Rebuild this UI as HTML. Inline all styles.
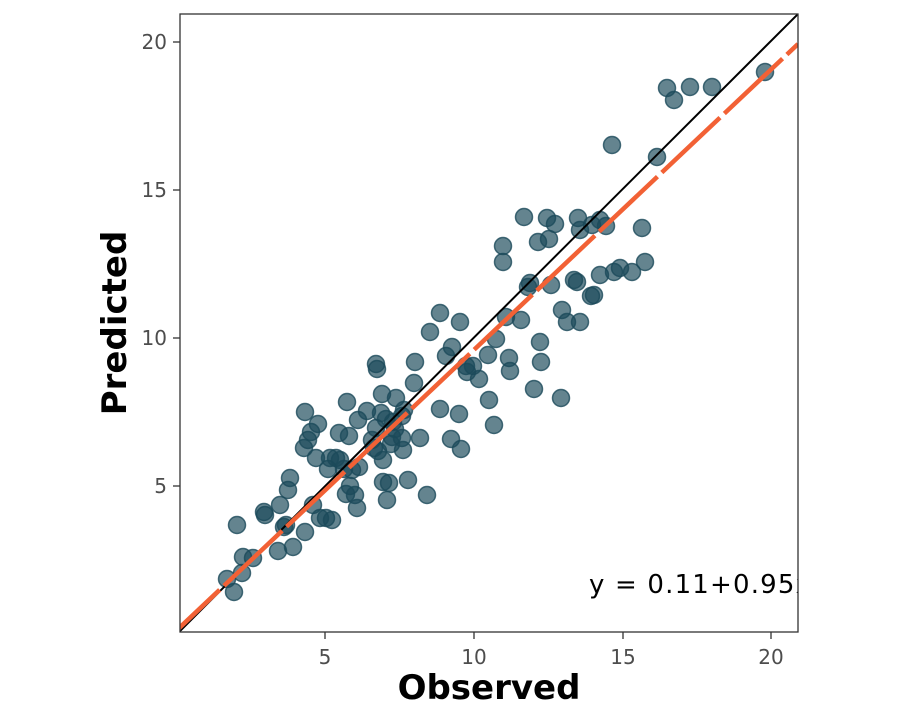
<!DOCTYPE html>
<html><head><meta charset="utf-8"><style>
html,body{margin:0;padding:0;background:#fff;}
svg{display:block;font-family:"DejaVu Sans","Liberation Sans",sans-serif;}
</style></head><body>
<svg width="900" height="720" viewBox="0 0 900 720">
<rect width="900" height="720" fill="#fff"/>
<defs><clipPath id="c"><rect x="180" y="14" width="618" height="618"/></clipPath></defs>
<g fill="#1b4a5a" fill-opacity="0.68" stroke="#1b4a5a" stroke-opacity="0.8" stroke-width="1.5" clip-path="url(#c)">
<circle cx="227" cy="579" r="8.5"/><circle cx="234" cy="592" r="8.5"/><circle cx="237" cy="525" r="8.5"/><circle cx="242" cy="573" r="8.5"/><circle cx="243" cy="557" r="8.5"/><circle cx="253" cy="558" r="8.5"/><circle cx="264" cy="512" r="8.5"/><circle cx="265" cy="515" r="8.5"/><circle cx="278" cy="551" r="8.5"/><circle cx="280" cy="505" r="8.5"/><circle cx="284" cy="527" r="8.5"/><circle cx="286" cy="525" r="8.5"/><circle cx="288" cy="490" r="8.5"/><circle cx="290" cy="478" r="8.5"/><circle cx="293" cy="547" r="8.5"/><circle cx="305" cy="532" r="8.5"/><circle cx="304" cy="448" r="8.5"/><circle cx="305" cy="412" r="8.5"/><circle cx="308" cy="440" r="8.5"/><circle cx="311" cy="432" r="8.5"/><circle cx="318" cy="424" r="8.5"/><circle cx="316" cy="458" r="8.5"/><circle cx="313" cy="505" r="8.5"/><circle cx="320" cy="518" r="8.5"/><circle cx="326" cy="518" r="8.5"/><circle cx="328" cy="469" r="8.5"/><circle cx="330" cy="458" r="8.5"/><circle cx="332" cy="520" r="8.5"/><circle cx="336" cy="458" r="8.5"/><circle cx="339" cy="433" r="8.5"/><circle cx="340" cy="460" r="8.5"/><circle cx="344" cy="469" r="8.5"/><circle cx="347" cy="402" r="8.5"/><circle cx="346" cy="494" r="8.5"/><circle cx="350" cy="486" r="8.5"/><circle cx="349" cy="436" r="8.5"/><circle cx="352" cy="470" r="8.5"/><circle cx="355" cy="495" r="8.5"/><circle cx="358" cy="420" r="8.5"/><circle cx="357" cy="508" r="8.5"/><circle cx="359" cy="467" r="8.5"/><circle cx="367" cy="411" r="8.5"/><circle cx="372" cy="440" r="8.5"/><circle cx="374" cy="448" r="8.5"/><circle cx="378" cy="451" r="8.5"/><circle cx="376" cy="428" r="8.5"/><circle cx="381" cy="413" r="8.5"/><circle cx="383" cy="482" r="8.5"/><circle cx="383" cy="460" r="8.5"/><circle cx="387" cy="500" r="8.5"/><circle cx="386" cy="419" r="8.5"/><circle cx="382" cy="394" r="8.5"/><circle cx="389" cy="483" r="8.5"/><circle cx="392" cy="437" r="8.5"/><circle cx="391" cy="444" r="8.5"/><circle cx="393" cy="422" r="8.5"/><circle cx="395" cy="429" r="8.5"/><circle cx="396" cy="398" r="8.5"/><circle cx="402" cy="438" r="8.5"/><circle cx="402" cy="416" r="8.5"/><circle cx="404" cy="410" r="8.5"/><circle cx="408" cy="480" r="8.5"/><circle cx="403" cy="450" r="8.5"/><circle cx="420" cy="438" r="8.5"/><circle cx="427" cy="495" r="8.5"/><circle cx="376" cy="364" r="8.5"/><circle cx="377" cy="369" r="8.5"/><circle cx="414" cy="383" r="8.5"/><circle cx="415" cy="362" r="8.5"/><circle cx="430" cy="332" r="8.5"/><circle cx="440" cy="313" r="8.5"/><circle cx="446" cy="356" r="8.5"/><circle cx="440" cy="409" r="8.5"/><circle cx="452" cy="347" r="8.5"/><circle cx="460" cy="322" r="8.5"/><circle cx="459" cy="414" r="8.5"/><circle cx="466" cy="366" r="8.5"/><circle cx="451" cy="439" r="8.5"/><circle cx="467" cy="372" r="8.5"/><circle cx="473" cy="366" r="8.5"/><circle cx="479" cy="379" r="8.5"/><circle cx="461" cy="449" r="8.5"/><circle cx="488" cy="355" r="8.5"/><circle cx="489" cy="400" r="8.5"/><circle cx="494" cy="425" r="8.5"/><circle cx="496" cy="339" r="8.5"/><circle cx="503" cy="262" r="8.5"/><circle cx="503" cy="246" r="8.5"/><circle cx="506" cy="317" r="8.5"/><circle cx="509" cy="358" r="8.5"/><circle cx="510" cy="371" r="8.5"/><circle cx="521" cy="320" r="8.5"/><circle cx="524" cy="217" r="8.5"/><circle cx="530" cy="283" r="8.5"/><circle cx="528" cy="287" r="8.5"/><circle cx="534" cy="389" r="8.5"/><circle cx="538" cy="242" r="8.5"/><circle cx="540" cy="342" r="8.5"/><circle cx="541" cy="362" r="8.5"/><circle cx="547" cy="218" r="8.5"/><circle cx="549" cy="239" r="8.5"/><circle cx="551" cy="285" r="8.5"/><circle cx="555" cy="224" r="8.5"/><circle cx="561" cy="398" r="8.5"/><circle cx="562" cy="310" r="8.5"/><circle cx="567" cy="322" r="8.5"/><circle cx="574" cy="280" r="8.5"/><circle cx="577" cy="282" r="8.5"/><circle cx="580" cy="322" r="8.5"/><circle cx="578" cy="218" r="8.5"/><circle cx="580" cy="230" r="8.5"/><circle cx="592" cy="225" r="8.5"/><circle cx="591" cy="296" r="8.5"/><circle cx="594" cy="295" r="8.5"/><circle cx="600" cy="275" r="8.5"/><circle cx="600" cy="220" r="8.5"/><circle cx="606" cy="226" r="8.5"/><circle cx="614" cy="272" r="8.5"/><circle cx="612" cy="145" r="8.5"/><circle cx="620" cy="268" r="8.5"/><circle cx="632" cy="272" r="8.5"/><circle cx="642" cy="228" r="8.5"/><circle cx="645" cy="262" r="8.5"/><circle cx="657" cy="157" r="8.5"/><circle cx="667" cy="88" r="8.5"/><circle cx="674" cy="100" r="8.5"/><circle cx="690" cy="87" r="8.5"/><circle cx="712" cy="87" r="8.5"/><circle cx="765" cy="72" r="8.5"/>
</g>
<g clip-path="url(#c)">
<line x1="180" y1="631" x2="798" y2="14" stroke="#000" stroke-width="2"/>
<line x1="176" y1="631" x2="798" y2="44" stroke="#f26135" stroke-width="4.5" stroke-dasharray="80 6" stroke-dashoffset="20"/>
<text x="589" y="593" font-size="26" fill="#000" textLength="222" lengthAdjust="spacing">y = 0.11+0.95x</text>
</g>
<rect x="180" y="14" width="618" height="618" fill="none" stroke="#333" stroke-width="1.3"/>
<g stroke="#333" stroke-width="1.3">
<line x1="325" y1="632" x2="325" y2="639"/><line x1="474" y1="632" x2="474" y2="639"/><line x1="623" y1="632" x2="623" y2="639"/><line x1="771" y1="632" x2="771" y2="639"/>
<line x1="173" y1="42" x2="180" y2="42"/><line x1="173" y1="190" x2="180" y2="190"/><line x1="173" y1="338" x2="180" y2="338"/><line x1="173" y1="486" x2="180" y2="486"/>
</g>
<g font-size="20" fill="#4d4d4d">
<g text-anchor="middle"><text x="325" y="664">5</text><text x="474" y="664">10</text><text x="623" y="664">15</text><text x="771" y="664">20</text></g>
<g text-anchor="end"><text x="167" y="49">20</text><text x="167" y="197">15</text><text x="167" y="345">10</text><text x="167" y="493">5</text></g>
</g>
<text x="489" y="699" font-size="34" font-weight="bold" text-anchor="middle">Observed</text>
<text transform="translate(126,323) rotate(-90)" font-size="34" font-weight="bold" text-anchor="middle">Predicted</text>
</svg>
</body></html>
